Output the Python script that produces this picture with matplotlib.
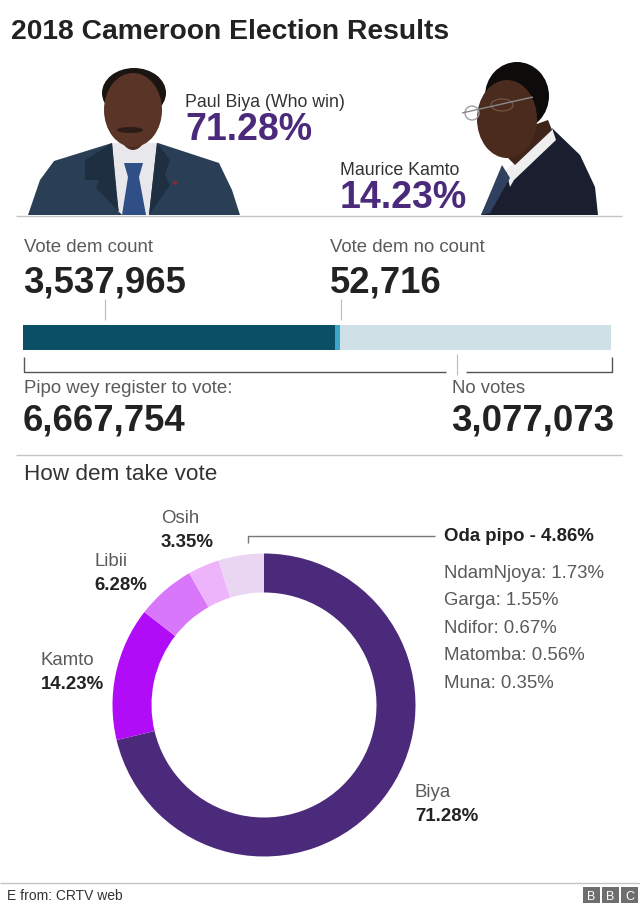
import matplotlib
matplotlib.use("Agg")
import matplotlib.pyplot as plt
from matplotlib.patches import Polygon, Ellipse, Rectangle

plt.rcParams['font.family'] = ['Liberation Sans', 'DejaVu Sans']

# donut data
pie_names = ['Biya', 'Kamto', 'Libii', 'Osih', 'Oda pipo']
pie_values = [71.28, 14.23, 6.28, 3.35, 4.86]
pie_colors = ['#4b2a7b', '#b00cf8', '#d977fb', '#eeb4fb', '#ead6f3']

# others breakdown
other_names = ['NdamNjoya', 'Garga', 'Ndifor', 'Matomba', 'Muna']
other_values = [1.73, 1.55, 0.67, 0.56, 0.35]

# turnout bar
bar_values = [3537965, 52716, 3077073]
bar_colors = ['#0b4f66', '#3ea6c8', '#cfe1e6']

DARK = '#222222'
GREY = '#5a5a5a'
PURPLE = '#4b2a7b'
W, H = 640, 906
BIG = 26.4
LABEL = 13.4
SMALL = 13.4

fig = plt.figure(figsize=(W / 100, H / 100), dpi=100)
ax = fig.add_axes([0, 0, 1, 1], xlim=(0, W), ylim=(H, 0))
ax.axis('off')


def txt(x, y, s, size, color=DARK, weight='normal', ha='left'):
    ax.text(x, y, s, fontsize=size, color=color, fontweight=weight, ha=ha, va='baseline')


def line(xs, ys, color='#bbbbbb', lw=0.8):
    ax.plot(xs, ys, color=color, lw=lw, solid_capstyle='butt')


def poly(pts, color):
    ax.add_patch(Polygon(pts, closed=True, fc=color, ec='none'))


def oval(x, y, w, h, color):
    ax.add_patch(Ellipse((x, y), w, h, fc=color, ec='none'))


# header
txt(11, 39, '2018 Cameroon Election Results', 20.3, DARK, 'bold')

# Biya photo, rough shapes
poly([(28, 215), (40, 180), (54, 161), (112, 143), (158, 143), (219, 163), (232, 190), (240, 215)], '#2a3f55')
poly([(112, 143), (157, 143), (149, 215), (119, 215)], '#e8e8ec')
poly([(124, 163), (143, 163), (139, 177), (146, 215), (122, 215), (128, 177)], '#2f4f86')
poly([(112, 143), (85, 160), (85, 180), (99, 180), (96, 188), (122, 215), (119, 215), (116, 190)], '#1f2f42')
poly([(157, 143), (170, 160), (165, 175), (170, 185), (149, 215)], '#1f2f42')
oval(175, 183, 4, 4, '#8c2a35')
oval(133, 125, 30, 50, '#4a2c22')
oval(134, 93, 64, 50, '#1b1512')
oval(133, 110, 58, 74, '#5a3527')
oval(130, 130, 26, 6, '#2c1b18')

# Kamto photo, rough shapes
poly([(481, 215), (500, 175), (520, 165), (552, 128), (580, 155), (595, 187), (598, 215)], '#1a1e2e')
poly([(506, 170), (552, 128), (556, 140), (514, 180), (510, 187)], '#eeeeee')
poly([(502, 165), (510, 178), (490, 213), (481, 215)], '#30405f')
oval(517, 96, 64, 68, '#0e0c0b')
poly([(520, 130), (548, 120), (552, 130), (515, 165), (505, 155)], '#3f2419')
oval(507, 119, 60, 78, '#4a2b1e')
line([462, 533], [113, 97], '#8a8a8a', 1.0)
ax.add_patch(Ellipse((472, 113), 14, 14, fc='none', ec='#a0a0a0', lw=1.0))
ax.add_patch(Ellipse((502, 105), 22, 12, fc='none', ec='#7a5a4a', lw=0.8))

txt(185, 107, 'Paul Biya (Who win)', 12.8, '#333333')
txt(185, 140, '71.28%', 27, PURPLE, 'bold')
txt(340, 175, 'Maurice Kamto', 12.8, '#333333')
txt(340, 208, '14.23%', 27, PURPLE, 'bold')
line([16, 622], [216, 216], '#c4c4c4', 1.0)

# turnout section
txt(24, 252, 'Vote dem count', LABEL, GREY)
txt(23, 293, f'{bar_values[0]:,}', BIG, DARK, 'bold')
txt(330, 252, 'Vote dem no count', LABEL, GREY)
txt(330, 293, f'{bar_values[1]:,}', BIG, DARK, 'bold')
line([105, 105], [299, 320])
line([341, 341], [299, 320])

bar_ax = fig.add_axes([23 / W, 1 - 349.5 / H, 588 / W, 24.5 / H])
left = 0
for val, col in zip(bar_values, bar_colors):
    bar_ax.barh(0, val, left=left, color=col, height=1)
    left += val
bar_ax.set_xlim(0, sum(bar_values))
bar_ax.set_ylim(-0.5, 0.5)
bar_ax.axis('off')

line([23.5, 23.5, 446], [357, 372, 372], '#555555', 1.0)
line([466, 611.5, 611.5], [372, 372, 357], '#555555', 1.0)
line([457, 457], [354, 375])
txt(24, 393, 'Pipo wey register to vote:', LABEL, GREY)
txt(23, 431, f'{sum(bar_values):,}', BIG, DARK, 'bold')
txt(452, 393, 'No votes', LABEL, GREY)
txt(451, 431, f'{bar_values[2]:,}', BIG, DARK, 'bold')
line([16, 622], [454.5, 454.5], '#c4c4c4', 1.0)

# donut
txt(24, 480, 'How dem take vote', 16.2, '#333333')
cx, cy, R = 264, 705, 151.5
pie_ax = fig.add_axes([(cx - R) / W, 1 - (cy + R) / H, 2 * R / W, 2 * R / H])
pie_ax.pie(pie_values, colors=pie_colors, startangle=90, counterclock=False, radius=1,
           wedgeprops={'width': 39 / 151.5, 'linewidth': 0})
pie_ax.set_xlim(-1, 1)
pie_ax.set_ylim(-1, 1)

# donut labels
pie_label_pos = [(415, 797), (41, 665), (94, 566), (161, 523)]
for (x, y), name, val in zip(pie_label_pos, pie_names, pie_values):
    txt(x, y, name, SMALL, GREY)
    txt(x, y + 24, f'{val:.2f}%', SMALL, DARK, 'bold')

line([248, 248, 435], [543, 536, 536], '#777777', 1.0)
txt(444, 541, f'{pie_names[4]} - {pie_values[4]:.2f}%', SMALL, DARK, 'bold')
for i, (name, val) in enumerate(zip(other_names, other_values)):
    txt(444, 578 + i * 27.4, f'{name}: {val:.2f}%', SMALL, GREY)

# footer
line([0, 640], [883, 883], '#c4c4c4', 1.0)
txt(7, 900, 'E from: CRTV web', 10, '#333333')
for bx, letter in zip([583, 602, 621], 'BBC'):
    ax.add_patch(Rectangle((bx, 887), 17, 16, fc='#6e6e6e', ec='none'))
    ax.text(bx + 8.5, 895.5, letter, fontsize=9, color='white', ha='center', va='center_baseline')

fig.savefig('out.png', dpi=100)
